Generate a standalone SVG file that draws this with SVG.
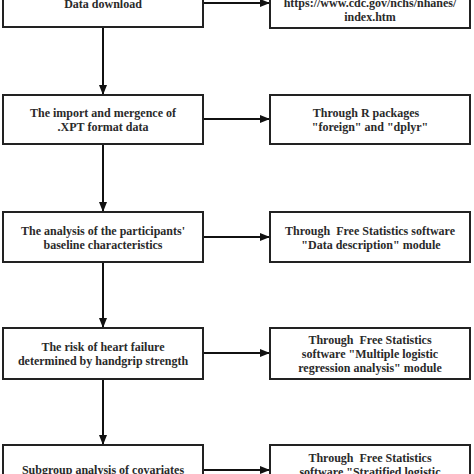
<svg xmlns="http://www.w3.org/2000/svg" width="474" height="474" viewBox="0 0 474 474">
<defs>
<marker id="ah" viewBox="0 0 10 8" refX="10" refY="4" markerWidth="10" markerHeight="8" markerUnits="userSpaceOnUse" orient="auto">
<path d="M0,0 L10,4 L0,8 Z" fill="#111"/>
</marker>
<style>
.box{fill:#fff;stroke:#222;stroke-width:2}
.t{font-family:"Liberation Serif","Times New Roman",serif;font-weight:bold;font-size:12px;fill:#2a2a2a;text-anchor:middle}
.c{stroke:#111;stroke-width:2;fill:none}
</style>
</defs>
<rect width="474" height="474" fill="#fff"/>
<g id="connectors">
<line class="c" x1="103" y1="27" x2="103" y2="95" marker-end="url(#ah)"/>
<line class="c" x1="103" y1="144" x2="103" y2="212" marker-end="url(#ah)"/>
<line class="c" x1="103" y1="262" x2="103" y2="328" marker-end="url(#ah)"/>
<line class="c" x1="103" y1="379" x2="103" y2="445" marker-end="url(#ah)"/>
<line class="c" x1="203" y1="3" x2="270" y2="3" marker-end="url(#ah)"/>
<line class="c" x1="203" y1="119" x2="270" y2="119" marker-end="url(#ah)"/>
<line class="c" x1="203" y1="237" x2="270" y2="237" marker-end="url(#ah)"/>
<line class="c" x1="203" y1="353" x2="270" y2="353" marker-end="url(#ah)"/>
<line class="c" x1="203" y1="470" x2="270" y2="470" marker-end="url(#ah)"/>
</g>
<g id="n1"><rect class="box" x="3" y="-22" width="200" height="49"/><text class="t" x="103" y="8">Data download</text></g>
<g id="r1"><rect class="box" x="270" y="-22" width="200" height="50"/><text class="t" x="370" y="7">https://www.cdc.gov/nchs/nhanes/</text><text class="t" x="370" y="21">index.htm</text></g>
<g id="n2"><rect class="box" x="3" y="95" width="200" height="49"/><text class="t" x="103" y="117">The import and mergence of</text><text class="t" x="103" y="131">.XPT format data</text></g>
<g id="r2"><rect class="box" x="270" y="95" width="200" height="49"/><text class="t" x="366" y="117">Through R packages</text><text class="t" x="370" y="131">"foreign" and "dplyr"</text></g>
<g id="n3"><rect class="box" x="3" y="212" width="200" height="50"/><text class="t" x="103" y="235">The analysis of the participants'</text><text class="t" x="103" y="249">baseline characteristics</text></g>
<g id="r3"><rect class="box" x="270" y="212" width="200" height="50"/><text class="t" x="370" y="235" xml:space="preserve">Through  Free Statistics software</text><text class="t" x="371" y="249">"Data description" module</text></g>
<g id="n4"><rect class="box" x="3" y="328" width="200" height="51"/><text class="t" x="103" y="351">The risk of heart failure</text><text class="t" x="103" y="365">determined by handgrip strength</text></g>
<g id="r4"><rect class="box" x="270" y="328" width="200" height="51"/><text class="t" x="370" y="344" xml:space="preserve">Through  Free Statistics</text><text class="t" x="370" y="358">software "Multiple logistic</text><text class="t" x="370" y="372">regression analysis" module</text></g>
<g id="n5"><rect class="box" x="3" y="445" width="200" height="50"/><text class="t" x="103" y="474">Subgroup analysis of covariates</text></g>
<g id="r5"><rect class="box" x="270" y="445" width="200" height="50"/><text class="t" x="370" y="462" xml:space="preserve">Through  Free Statistics</text><text class="t" x="370" y="476">software "Stratified logistic</text></g>
</svg>
